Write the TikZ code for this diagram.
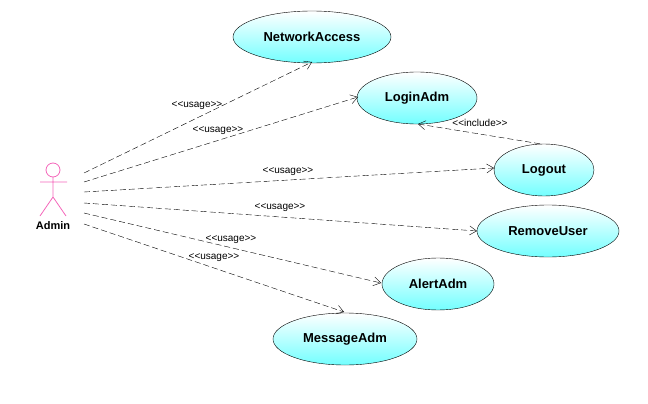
\documentclass[tikz,border=0pt]{standalone}
\usepackage{fontspec}
\setmainfont{Liberation Sans}
\usetikzlibrary{arrows.meta,shapes.geometric}
\newcommand{\ulab}{{<}{<}usage{>}{>}}
\begin{document}
\begin{tikzpicture}[x=1pt,y=-1pt,
 uc/.style={ellipse,draw=black,top color=white,bottom color=cyan!55,font=\bfseries\fontsize{13}{15}\selectfont,inner sep=0pt},
 dep/.style={dashed,dash pattern=on 6pt off 3pt,-{Straight Barb[length=7pt,width=9pt]}},
 lbl/.style={font=\fontsize{10}{12}\selectfont,inner sep=1pt}]
\useasboundingbox (0,0) rectangle (648,404);
\node[uc,minimum width=158pt,minimum height=52pt] (na) at (312,37) {NetworkAccess};
\node[uc,minimum width=120pt,minimum height=52pt] (la) at (417,98) {LoginAdm};
\node[uc,minimum width=100pt,minimum height=52pt] (lo) at (544,170) {Logout};
\node[uc,minimum width=142pt,minimum height=52pt] (ru) at (548,231) {RemoveUser};
\node[uc,minimum width=112pt,minimum height=52pt] (aa) at (438,284) {AlertAdm};
\node[uc,minimum width=144pt,minimum height=52pt] (ma) at (345,339) {MessageAdm};
% actor
\draw[magenta!60,thick] (53,170) circle (7);
\draw[magenta!60,thick] (53,177) -- (53,197) (40,182) -- (67,182) (53,197) -- (40,216) (53,197) -- (66,216);
\node[font=\bfseries\fontsize{11}{13}\selectfont] (admin) at (53,226) {Admin};
\coordinate (s1) at (84,173);
\coordinate (s2) at (84,182);
\coordinate (s3) at (84,192);
\coordinate (s4) at (84,203);
\coordinate (s5) at (84,213);
\coordinate (s6) at (84,224);
\draw[dep] (s1) -- (312,62) coordinate (e1);
\draw[dep] (s2) -- (358,97) coordinate (e2);
\draw[dep] (s3) -- (494,168) coordinate (e3);
\draw[dep] (s4) -- (477,231) coordinate (e4);
\draw[dep] (s5) -- (381,283) coordinate (e5);
\draw[dep] (s6) -- (344,312) coordinate (e6);
\draw[dep] (lo.north) ++(-4,0) coordinate (i1) -- (418,124) coordinate (i2);
\node[lbl] (l1) at (197,106) {\ulab};
\node[lbl] (l2) at (218,131) {\ulab};
\node[lbl] (l3) at (288,172) {\ulab};
\node[lbl] (l4) at (280,208) {\ulab};
\node[lbl] (l5) at (231,240) {\ulab};
\node[lbl] (l6) at (214,258) {\ulab};
\node[lbl] (l7) at (480,123) {{<}{<}include{>}{>}};
\end{tikzpicture}
\end{document}
